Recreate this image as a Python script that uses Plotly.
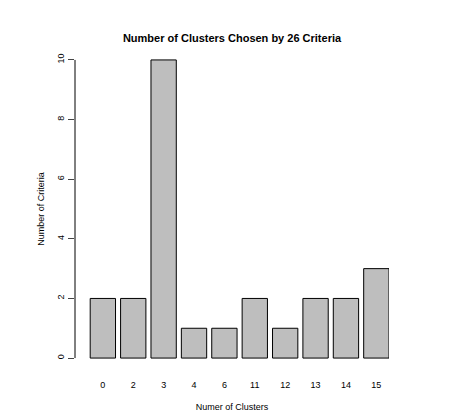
import plotly.graph_objects as go

clusters = ["0", "2", "3", "4", "6", "11", "12", "13", "14", "15"]
criteria = [2, 2, 10, 1, 1, 2, 1, 2, 2, 3]
y_ticks = [0, 2, 4, 6, 8, 10]

# R barplot layout: width 1, space 0.2
pos = [0.7 + 1.2 * i for i in range(len(clusters))]

fig = go.Figure(go.Bar(
    x=pos, y=criteria, width=1.0,
    marker=dict(color="#bebebe", line=dict(color="black", width=1)),
))
fig.add_shape(type="line", x0=0, x1=0, y0=min(y_ticks), y1=max(y_ticks),
              xref="paper", yref="y", line=dict(color="black", width=1))
fig.update_layout(
    width=474, height=416, plot_bgcolor="white", paper_bgcolor="white",
    margin=dict(l=67, r=93, t=40, b=54), showlegend=False,
    font=dict(family="Liberation Sans, Arial", size=9, color="black"),
    title=dict(text="<b>Number of Clusters Chosen by 26 Criteria</b>", x=224 / 474, xanchor="center",
               y=1 - 30 / 416, yanchor="middle", font=dict(size=11)),
    xaxis=dict(range=[-0.4, 12.0], tickvals=pos, ticktext=clusters, showgrid=False,
               zeroline=False, showline=False, ticks="", ticklabelstandoff=8, automargin=False,
               title=dict(text="Numer of Clusters", standoff=14, font=dict(size=9))),
    yaxis=dict(range=[-0.4, 10.4], tickvals=y_ticks, showgrid=False, zeroline=False,
               showline=False, ticks="outside", ticklen=6, tickangle=-90, automargin=False,
               title=dict(text="Number of Criteria", standoff=10, font=dict(size=9))),
)
fig.write_html("out.html")
